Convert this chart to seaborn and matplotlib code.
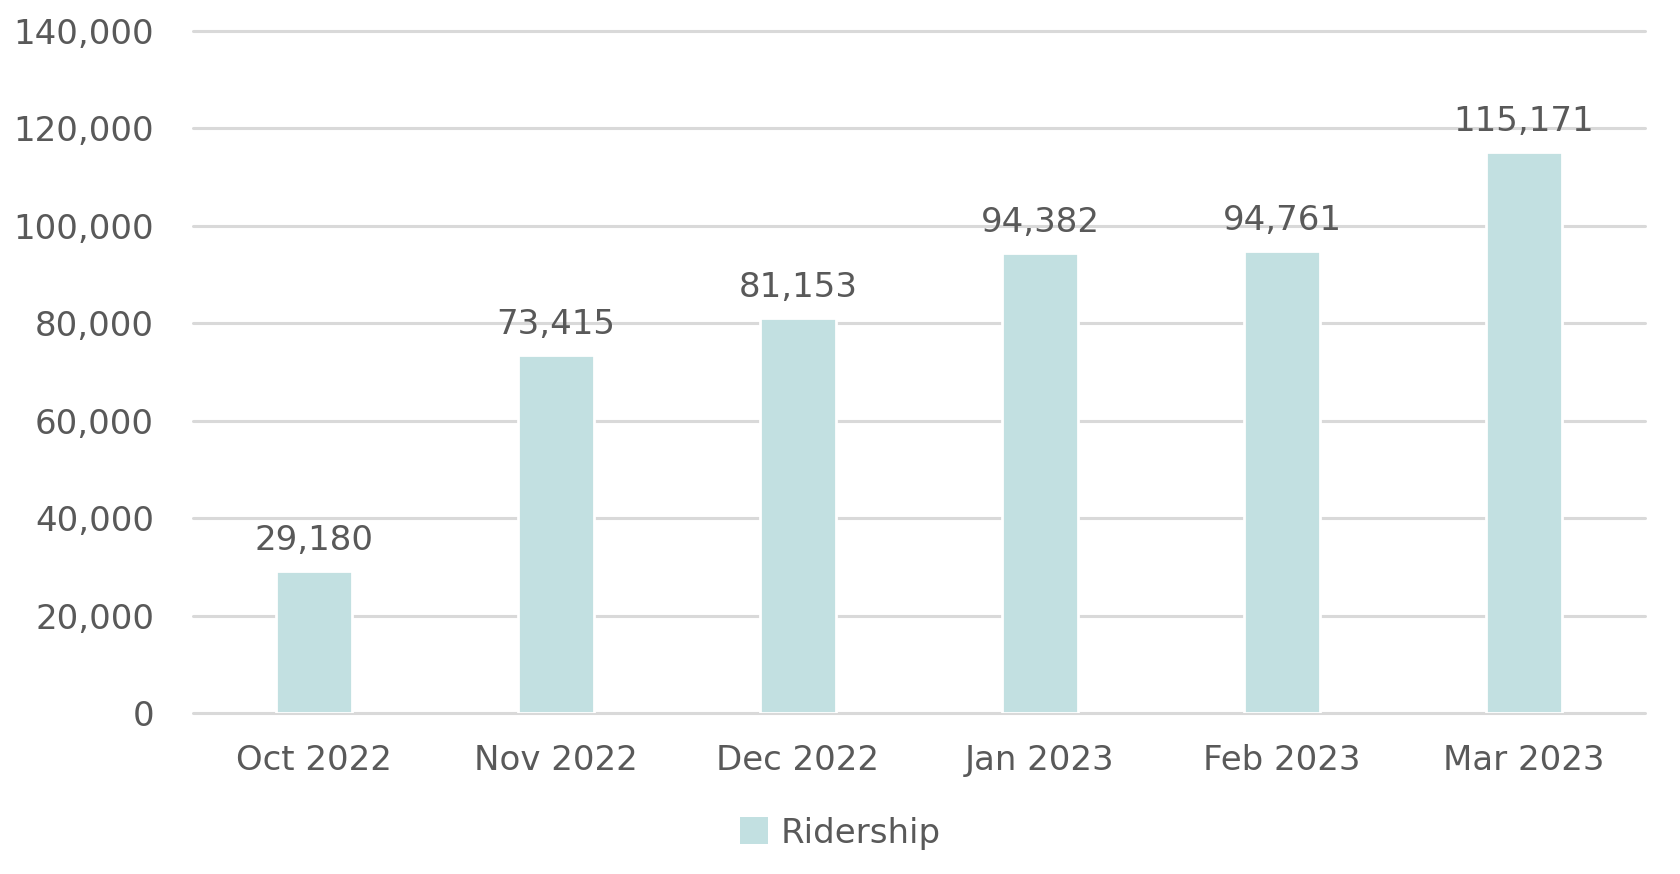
import matplotlib
matplotlib.use("Agg")
import matplotlib.pyplot as plt
import seaborn as sns
import pandas as pd

months = ["Oct 2022", "Nov 2022", "Dec 2022", "Jan 2023", "Feb 2023", "Mar 2023"]
ridership = [29180, 73415, 81153, 94382, 94761, 115171]
y_ticks = [0, 20000, 40000, 60000, 80000, 100000, 120000, 140000]
series_name = "Ridership"

BAR = "#C2E0E1"
TXT = "#595959"
GRID = "#D9D9D9"
FS = 24.5

sns.set_theme(style="white")
plt.rcParams["font.family"] = ["DejaVu Sans"]

df = pd.DataFrame({"month": months, "ridership": ridership})

fig = plt.figure(figsize=(16.8, 8.74), dpi=100)
ax = fig.add_axes([193 / 1680, 1 - 713 / 874, (1645 - 193) / 1680, (713 - 31) / 874])

sns.barplot(data=df, x="month", y="ridership", color=BAR, width=0.31,
            saturation=1, label=series_name, ax=ax, zorder=3,
            edgecolor="white", linewidth=2)

ax.set_ylim(0, 140000)
ax.set_xlim(-0.5, len(months) - 0.5)
ax.set_yticks(y_ticks)
ax.set_yticklabels([f"{v:,}" for v in y_ticks])
ax.yaxis.grid(True, color=GRID, linewidth=2.2, zorder=0)
for gl in ax.get_ygridlines():
    gl.set_clip_on(False)
ax.set_axisbelow(True)
for s in ax.spines.values():
    s.set_visible(False)
ax.tick_params(axis="both", length=0, labelsize=FS, labelcolor=TXT)
ax.tick_params(axis="y", pad=28)
ax.tick_params(axis="x", pad=22)
ax.set_xlabel("")
ax.set_ylabel("")

ax.bar_label(ax.containers[0], labels=[f"{v:,}" for v in ridership],
             padding=10, fontsize=FS, color=TXT)

leg = ax.legend(loc="center", bbox_to_anchor=(0.5, 1 - 833 / 874),
                bbox_transform=fig.transFigure, frameon=False,
                fontsize=FS, handlelength=0.85, handleheight=0.85,
                handletextpad=0.35, labelcolor=TXT)
for h in leg.legend_handles:
    h.set_linewidth(0)

fig.savefig("out.png", dpi=100, facecolor="white")
